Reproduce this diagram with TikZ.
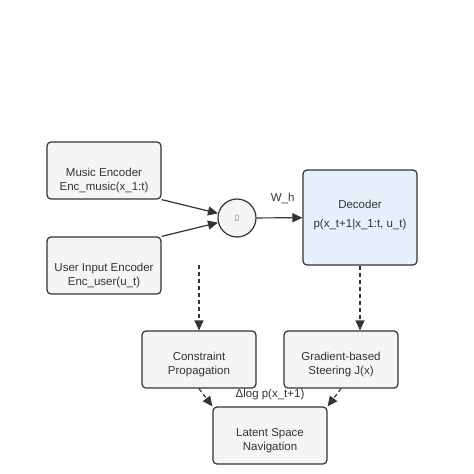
\documentclass[tikz,border=0pt]{standalone}
\usepackage{fontspec}
\setmainfont{Liberation Sans}
\newfontfamily\symfont{DejaVu Sans}
\usetikzlibrary{arrows.meta}
\definecolor{boxline}{HTML}{333333}
\definecolor{boxfill}{HTML}{F5F5F5}
\definecolor{decfill}{HTML}{E6F0FB}
\newcommand{\pushdown}[1]{\rule{0pt}{#1}}
\newcommand{\pushup}[1]{\rule[-#1]{0pt}{0pt}}
\tikzset{%
  block/.style   = {shape=rectangle, rounded corners=4pt, draw=boxline,%
                    line width=1.2pt, fill=boxfill, align=center,%
                    minimum width=114pt, minimum height=57pt,%
                    font=\fontsize{11.5}{14}\selectfont, text=black!80},%
  decoder/.style = {block, fill=decfill, minimum height=95pt},%
  joint/.style   = {circle, draw=boxline, line width=1.2pt, fill=boxfill,%
                    minimum size=38pt, inner sep=0pt},%
  tag/.style     = {font=\fontsize{11.5}{14}\selectfont, text=black!80},%
  flow/.style    = {-{Triangle[length=10pt,width=9pt]}, line width=1.2pt, draw=boxline},%
  dflow/.style   = {flow, dash pattern=on 4pt off 3pt}%
}

\begin{document}
\begin{tikzpicture}[x=1pt,y=-1pt]
	\useasboundingbox (0,0) rectangle (474,474);
	\node [block]   (music)  at (104,170.5) {\pushdown{28pt}Music Encoder\\Enc\_music(x\_1:t)};
	\node [block]   (user)   at (104,265.5) {\pushdown{28pt}User Input Encoder\\Enc\_user(u\_t)};
	\node [joint]   (mix)    at (237,218)   {\symfont\fontsize{8}{8}\selectfont\color{black!60}▯};
	\node [decoder] (dec)    at (360,217.5) {Decoder\\[5pt]p(x\_t+1|x\_1:t, u\_t)\pushup{7.5pt}};
	\node [block]   (constr) at (199,359.5) {\pushdown{17.5pt}Constraint\\Propagation};
	\node [block]   (steer)  at (341,359.5) {\pushdown{17.5pt}Gradient-based\\Steering J(x)};
	\node [block]   (latent) at (270,435.5) {\pushdown{17.5pt}Latent Space\\Navigation};
	\coordinate (cstart) at (199,265);
	\draw [flow] (music.south east) -- (mix);
	\draw [flow] (user.north east) -- (mix);
	\draw [flow] (mix) -- node [tag, above=10pt, pos=0.57] {W\_h} (dec);
	\draw [dflow] (cstart) -- (constr);
	\draw [dflow] (dec) -- (steer.north -| dec);
	\draw [dflow] (constr.south) -- (latent.north west);
	\draw [dflow] (steer.south) -- (latent.north east);
	\node [tag] (dlog) at (270,395) {Δlog p(x\_t+1)};
\end{tikzpicture}
\end{document}
